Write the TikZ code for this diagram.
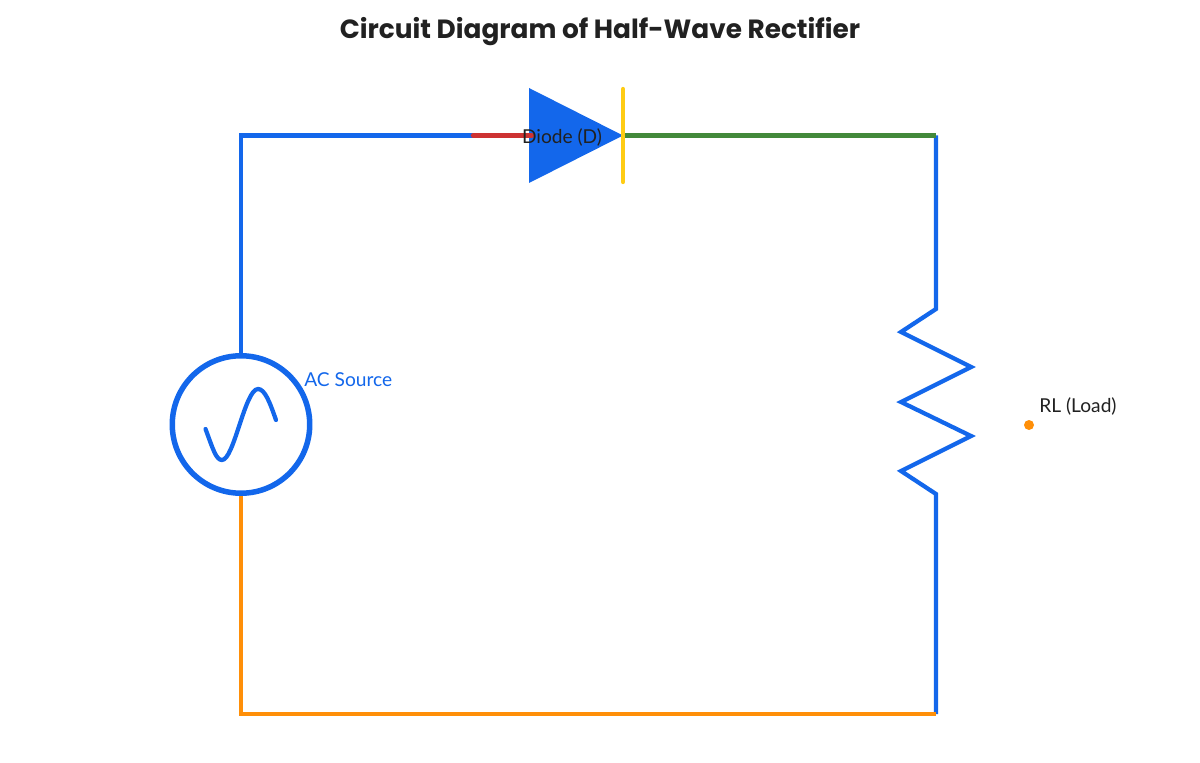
\documentclass[tikz,border=0pt]{standalone}
\usepackage{xcolor}
\usepackage{fontspec}
\setmainfont{Lato}
\newfontfamily\titlefont{Poppins}
\definecolor{wireblue}{RGB}{19,103,235}
\definecolor{wirered}{RGB}{205,50,50}
\definecolor{wiregreen}{RGB}{67,137,59}
\definecolor{wireorange}{RGB}{255,143,8}
\definecolor{baryellow}{RGB}{255,204,20}
\definecolor{inktext}{RGB}{33,33,33}
\tikzstyle{wire}=[line width=.085cm, line join=miter]
\tikzstyle{label}=[font=\fontsize{10.9}{12}\selectfont, inner sep=0pt]
\begin{document}
\begin{tikzpicture}[x=.02cm,y=-.02cm]
  \useasboundingbox (0,0) rectangle (1200,763);
  \draw (600,32) node[font=\titlefont\fontsize{15}{18}\selectfont\bfseries,text=inktext] (title) {Circuit Diagram of Half-Wave Rectifier};

  %% Corners and ends of the wires
  \coordinate (TL) at (241,135.5);
  \coordinate (BL) at (241,714);
  \coordinate (TR) at (936,135.5);
  \coordinate (BR) at (936,714);
  \coordinate (RT) at (936,309);
  \coordinate (RB) at (936,494);
  \coordinate (DI) at (473,135.5);
  \coordinate (DM) at (532,135.5);
  \coordinate (DK) at (623,135.5);
  \coordinate (BT) at (623,89);
  \coordinate (BB) at (623,182);

  %% AC source
  \draw (241,424.5) node[circle,draw=wireblue,line width=.11cm,minimum size=2.75cm,inner sep=0pt] (AC) {};
  \draw[wire,color=wireblue,line cap=round] (205.5,429) .. controls (213,449) and (216,460) .. (222,460)
    .. controls (234,460) and (245,389) .. (258,389) .. controls (265,389) and (270,403) .. (276,420);

  %% Wires
  \draw[wire,color=wireblue] (AC.north) -- (TL) -- (DI);
  \draw[wire,color=wireblue] (TR) -- (RT) -- (901,332) -- (971,367) -- (901,402) -- (971,436) -- (901,471) -- (RB) -- (BR);
  \draw[wire,color=wireorange] (BR) -- (BL) -- (AC.south);

  %% Diode
  \fill[wireblue] (529,88) -- (DK) -- (529,183) -- cycle;
  \draw[wire,color=wirered,line cap=round] (DI) -- (DM);
  \draw[wire,color=wiregreen] (DK) -- (TR);
  \draw[wire,color=baryellow,line cap=round] (BT) -- (BB);

  %% Labels
  \draw (562,137) node[label,text=inktext] (diode) {Diode (D)};
  \draw (304,380) node[label,anchor=west,text=wireblue] (source) {AC Source};
  \draw (1039,406) node[label,anchor=west,text=inktext] (load) {RL (Load)};
  \fill[wireorange] (1029,425) circle (5);
\end{tikzpicture}
\end{document}
